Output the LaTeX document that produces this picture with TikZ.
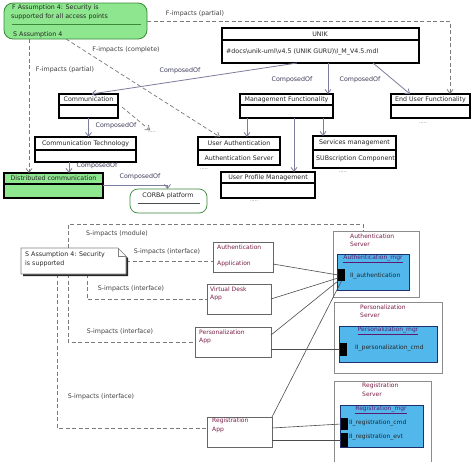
\documentclass[tikz,border=0pt]{standalone}
\usepackage{fontspec}
\setmainfont{DejaVu Sans}
\usetikzlibrary{arrows.meta,fit,calc}
\definecolor{grn}{HTML}{8EE68E}
\definecolor{grnd}{HTML}{3A8A3A}
\definecolor{blu}{HTML}{52B8EC}
\definecolor{navy}{HTML}{1E2E6E}
\definecolor{mar}{HTML}{7A2048}
\definecolor{lnk}{HTML}{7D7D9E}
\definecolor{dsh}{HTML}{7A7A7A}
\definecolor{lbl}{HTML}{3C3C5A}
\tikzset{
 box/.style={inner sep=0pt, outer sep=0pt},
 cls/.style={box, draw=black, line width=1.5pt},
 app/.style={box, draw=black!60, line width=0.6pt, fill=white},
 srv/.style={box, draw=black!45, line width=0.7pt},
 mgr/.style={box, draw=navy, line width=0.7pt, fill=blu},
 port/.style={box, fill=black},
 txt/.style={inner sep=0pt, font=\fontsize{6.3}{7}\selectfont, text=black!85},
 mtxt/.style={inner sep=0pt, font=\fontsize{6}{7}\selectfont, text=mar},
 ptxt/.style={inner sep=0pt, font=\fontsize{6}{7}\selectfont, text=black!85},
 lab/.style={txt, text=lbl},
 dlab/.style={txt, text=black!75},
 comp/.style={draw=lnk, line width=0.8pt, -{Straight Barb[length=4pt,width=6pt]}},
 dep/.style={draw=dsh, line width=0.7pt, dash pattern=on 4pt off 2.5pt},
 deparr/.style={dep, -{Straight Barb[length=4pt,width=6pt]}},
 conn/.style={draw=black!70, line width=0.6pt},
 dotsn/.style={inner sep=0pt, font=\fontsize{5}{5}\selectfont, text=black!55},
}
\newcommand{\clsb}[8]{%
 \node[cls,#7, fit={(#2,#3) (#4,#5)}] (#1) {};
 \draw[line width=1.1pt] ($(#1.north west)+(0,#6)$) -- ($(#1.north east)+(0,#6)$);
 \node[txt] (#1-t) at ($(#1.north)+(0,#6/2)$) {#8};
}
\begin{document}
\begin{tikzpicture}[x=1pt,y=-1pt]
\useasboundingbox (0,0) rectangle (474,469);
\fill[white] (0,0) rectangle (474,469);

% ---------- top section ----------
\node[box, draw=grnd, fill=grn, line width=0.8pt, rounded corners=9pt, fit={(4,3) (147,39)}] (fa) {};
\draw[grnd, line width=0.8pt] ($(fa.north west)+(8,21.5)$) -- ($(fa.north east)+(-6,21.5)$);
\node[txt, anchor=west] (fa1) at (12,7.5) {F Assumption 4: Security is};
\node[txt, anchor=west] (fa2) at (11,16.5) {supported for all access points};
\node[txt, anchor=west] (fa3) at (13,34.5) {S Assumption 4};

\node[cls, fit={(222,28) (419,63)}] (unik) {};
\draw[line width=1.1pt] ($(unik.north west)+(0,12)$) -- ($(unik.north east)+(0,12)$);
\node[txt] (unik-t) at (320,34) {UNIK};
\node[txt, anchor=west] (unik-p) at (226,52) {\#docs\textbackslash unik-uml\textbackslash v4.5 (UNIK GURU)\textbackslash I\_M\_V4.5.mdl};

\clsb{comm}{59}{94}{118}{118}{11}{}{Communication}
\clsb{mgmt}{240}{94}{333}{118}{11}{}{Management Functionality}
\clsb{eu}{391}{94}{470}{118}{11}{}{End User Functionality}
\clsb{ct}{35}{137}{136}{162}{13}{}{Communication Technology}
\clsb{dc}{4}{173}{103}{198}{11}{fill=grn}{Distributed communication}
\clsb{ua}{198}{137}{280}{165}{13}{}{User Authentication}
\node[txt] (ua-b) at (239,158) {Authentication Server};
\clsb{sm}{313}{136}{396}{168}{14}{}{Services management}
\begin{scope}
\clip (sm.north west) rectangle (sm.south east);
\node[txt, anchor=west] (sm-b) at (316,159) {SUBscription Component};
\end{scope}
\clsb{upm}{221}{172}{315}{198}{11}{}{User Profile Management}

\node[box, draw=grnd, line width=0.7pt, rounded corners=8pt, fit={(130,189) (207,213)}, fill=white] (corba) {};
\draw[black!70, line width=0.6pt] ($(corba.north west)+(8,14)$) -- ($(corba.north east)+(-7,14)$);
\node[txt] (corba-t) at (168,195.5) {CORBA platform};

\node[dotsn] (d1) at (152,132) {.....};
\node[dotsn] (d2) at (204,169) {.....};
\node[dotsn] (d3) at (423,123) {.....};
\node[dotsn] (d4) at (343,172) {.....};
\node[dotsn] (d5) at (254,201) {.....};

% composed-of connectors
\draw[comp] ($(unik.south west)+(75,0)$) -- ($(comm.north)+(3,0)$);
\draw[comp] ($(unik.south west)+(106,0)$) -- ($(mgmt.north east)+(-5,0)$);
\draw[comp] ($(unik.south west)+(151,0)$) -- ($(eu.north west)+(19,0)$);
\draw[comp] (comm.south) -- (comm.south |- ct.north);
\draw[comp] ($(ct.south west)+(34,0)$) -- ($(dc.north west)+(65,0)$);
\draw[comp] (dc.east) -| ($(corba.north)+(-1,0)$);
\draw[comp] ($(mgmt.south west)+(7,0)$) -- ($(ua.north west)+(49,0)$);
\draw[comp] ($(mgmt.south west)+(54,0)$) -- ($(upm.north west)+(73,0)$);
\draw[comp] ($(mgmt.south west)+(83,0)$) -- ($(sm.north west)+(10,0)$);
\draw[deparr] ($(comm.east)+(4,1)$) -- ($(d1.north)+(-2,-1)$);

% F-impacts
\draw[deparr] (fa.east) -| ($(eu.north east)+(-20,0)$);
\draw[deparr] ($(fa.south west)+(62,0)$) -- ($(ua.north west)+(22,0)$);
\draw[deparr] ($(fa.south west)+(25,0)$) -- ($(dc.north west)+(25,0)$);

\node[dlab] (l1) at (195,14) {F-impacts (partial)};
\node[dlab] (l2) at (126,50) {F-impacts (complete)};
\node[dlab] (l3) at (65,70) {F-impacts (partial)};
\node[lab] (l4) at (180,71) {ComposedOf};
\node[lab] (l5) at (292,80) {ComposedOf};
\node[lab] (l6) at (360,80) {ComposedOf};
\node[lab] (l7) at (116,126) {ComposedOf};
\node[lab] (l8) at (97,166) {ComposedOf};
\node[lab] (l9) at (140,177) {ComposedOf};

% ---------- bottom section ----------
\node[app, fit={(213,242) (273,272)}] (aa) {};
\node[mtxt, anchor=west] (aa1) at (217,247) {Authentication};
\node[mtxt, anchor=west] (aa2) at (217,264) {Application};
\node[app, fit={(207,284) (271,314)}] (vd) {};
\node[mtxt, anchor=west] (vd1) at (210,289) {Virtual Desk};
\node[mtxt, anchor=west] (vd2) at (210,298) {App};
\node[app, fit={(195,327) (271,357)}] (pa) {};
\node[mtxt, anchor=west] (pa1) at (199,332) {Personalization};
\node[mtxt, anchor=west] (pa2) at (199,341) {App};
\node[app, fit={(207,417) (272,447)}] (ra) {};
\node[mtxt, anchor=west] (ra1) at (212,421) {Registration};
\node[mtxt, anchor=west] (ra2) at (212,430) {App};

% servers
\node[srv, fit={(333,231) (419,297)}] (as) {};
\node[mtxt, anchor=west] (as1) at (350,236) {Authentication};
\node[mtxt, anchor=west] (as2) at (350,244) {Server};
\node[mgr, fit={(337,254) (409,290)}] (am) {};
\node[mtxt, text=mar!80!blue] (am-t) at (373,259) {\underline{Authentication\_mgr}};
\node[port, fit={(338,269) (345,281)}] (ap1) {};
\node[ptxt, anchor=west] (ap1-t) at (350,276) {II\_authentication};

\node[srv, fit={(334,302) (442,373)}] (ps) {};
\node[mtxt, anchor=west] (ps1) at (360,307) {Personalization};
\node[mtxt, anchor=west] (ps2) at (360,315) {Server};
\node[mgr, fit={(339,326) (437,362)}] (pm) {};
\node[mtxt, text=mar!80!blue] (pm-t) at (388,331) {\underline{Personalization\_mgr}};
\node[port, fit={(340,343) (347,356)}] (pp1) {};
\node[ptxt, anchor=west] (pp1-t) at (355,348) {II\_personalization\_cmd};

\coordinate (rs-sw) at (334,462);
\coordinate (rs-ne) at (431,381);
\draw[black!45, line width=0.7pt] (rs-sw) |- (rs-ne) -- (rs-ne |- rs-sw);
\node[mtxt, anchor=west] (rs1) at (362,386) {Registration};
\node[mtxt, anchor=west] (rs2) at (362,394) {Server};
\node[mgr, fit={(340,405) (423,447)}] (rm) {};
\node[mtxt, text=mar!80!blue] (rm-t) at (381,410) {\underline{Registration\_mgr}};
\node[ptxt, anchor=west] (rp1-t) at (349,423) {II\_registration\_cmd};
\node[ptxt, anchor=west] (rp2-t) at (349,437) {II\_registration\_evt};
\node[port, fit={(341,418) (348,430)}] (rp1) {};
\node[port, fit={(341,433) (348,447)}] (rp2) {};

% S-impacts dashed (drawn before the note)
\node[box, fit={(21,248) (126,274)}] (note) {};
\draw[dep] ($(note.north west)+(47,0)$) |- ($(as.north west)+(30,-7)$) -- ($(as.north west)+(30,0)$);
\draw[dep] (note.east) -- (note.east -| aa.west);
\draw[dep] ($(note.south west)+(66,0)$) |- (vd.west);
\draw[dep] ($(note.south west)+(47,0)$) |- (pa.west);
\draw[dep] ($(note.south west)+(36,0)$) |- ($(ra.west)+(0,-4)$);

% note with folded corner and shadow
\fill[black!85] ($(note.north west)+(2,2)$) -- ($(note.north east)+(-6,2)$) -- ($(note.north east)+(2,10)$) -- ($(note.south east)+(2,2)$) -- ($(note.south west)+(2,2)$) -- cycle;
\draw[black!50, fill=white, line width=0.6pt] (note.north west) -- ($(note.north east)+(-8,0)$) -- ($(note.north east)+(0,8)$) -- (note.south east) -- (note.south west) -- cycle;
\draw[black!50, line width=0.6pt] ($(note.north east)+(-8,0)$) |- ($(note.north east)+(0,8)$);
\node[txt, anchor=west] (n1) at (25,255) {S Assumption 4: Security};
\node[txt, anchor=west] (n2) at (25,264) {is supported};

\node[dlab] (s1) at (117,234) {S-impacts (module)};
\node[dlab] (s2) at (167,252) {S-impacts (interface)};
\node[dlab] (s3) at (131,289) {S-impacts (interface)};
\node[dlab] (s4) at (120,332) {S-impacts (interface)};
\node[dlab] (s5) at (101,397) {S-impacts (interface)};

% solid connectors to ports
\draw[conn] ($(aa.south east)+(0,-8)$) -- (ap1.west);
\draw[conn] (vd.east) -- ($(ap1.south west)+(0,-3)$);
\draw[conn] ($(pa.north east)+(0,8)$) -- (ap1.south west);
\draw[conn] (ra.north east) -- (ap1.south);
\draw[conn] (pa.east |- pp1.west) -- (pp1.west);
\draw[conn] ($(ra.east)+(0,-4)$) -- (rp1.west);
\draw[conn] (ra.east |- rp2.west) -- (rp2.west);
\end{tikzpicture}
\end{document}
